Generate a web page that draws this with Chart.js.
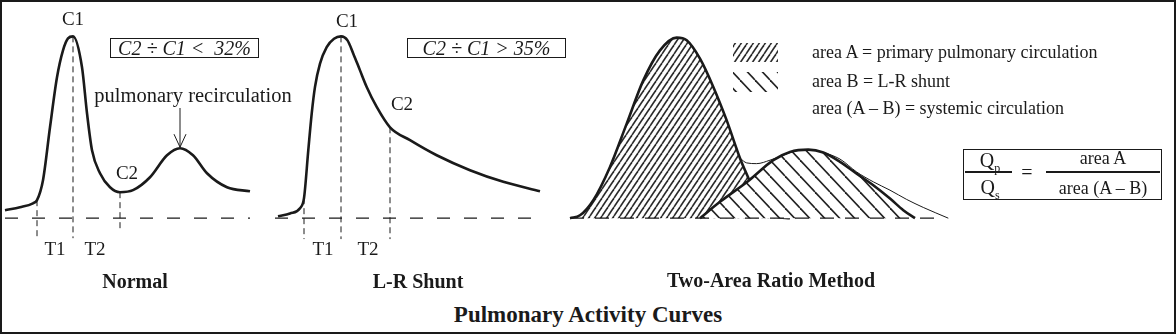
<!DOCTYPE html>
<html>
<head>
<meta charset="utf-8">
<script src="https://cdn.jsdelivr.net/npm/chart.js@4.4.1/dist/chart.umd.min.js"></script>
<style>
  body { margin: 0; background: #fff; }
  #wrap { position: relative; width: 1176px; height: 334px; font-family: "Liberation Serif", "Times New Roman", serif; color: #1a1a1a; overflow: hidden; }
  #frame { position: absolute; left: 0; top: 0; width: 1176px; height: 334px; box-sizing: border-box; border: 2px solid #1a1a1a; }
  canvas { position: absolute; top: 0; }
  .c { position: absolute; white-space: nowrap; transform: translate(-50%, -50%); }
  .l { position: absolute; white-space: nowrap; transform: translateY(-50%); font-size: 18px; }
  .b { font-weight: bold; font-size: 20px; }
  .box { position: absolute; border: 1.3px solid #1a1a1a; box-sizing: border-box; font-style: italic; font-size: 20px; line-height: 18px; text-align: center; white-space: pre; }
  .frac { position: absolute; height: 1.6px; background: #1a1a1a; }
  sub { font-size: 12px; vertical-align: -5px; line-height: 0; }
</style>
</head>
<body>
<div id="wrap">
  <canvas id="normal" width="300" height="300" style="left:0"></canvas>
  <canvas id="shunt" width="280" height="300" style="left:270px"></canvas>
  <canvas id="ratio" width="610" height="300" style="left:560px"></canvas>

  <div class="box" style="left:110px;top:38px;width:149px;height:20px">C2 ÷ C1 <  32%</div>
  <div class="box" style="left:407px;top:38px;width:159px;height:20px">C2 ÷ C1 > 35%</div>

  <div class="l" style="left:812px;top:52px">area A = primary pulmonary circulation</div>
  <div class="l" style="left:812px;top:81px">area B = L-R shunt</div>
  <div class="l" style="left:812px;top:108px">area (A – B) = systemic circulation</div>

  <div style="position:absolute;left:963px;top:149px;width:199px;height:51px;box-sizing:border-box;border:1.5px solid #1a1a1a"></div>
  <div class="c" style="left:990px;top:160px;font-size:20px">Q<sub>p</sub></div>
  <div class="frac" style="left:965px;top:171px;width:47px"></div>
  <div class="c" style="left:990px;top:187px;font-size:20px">Q<sub>s</sub></div>
  <div class="c" style="left:1027px;top:172px;font-size:20px">=</div>
  <div class="frac" style="left:1046px;top:171px;width:114px"></div>
  <div class="c" style="left:1103px;top:158px;font-size:18px">area A</div>
  <div class="c" style="left:1103px;top:188px;font-size:18px">area (A – B)</div>

  <div class="c b" style="left:135px;top:281px">Normal</div>
  <div class="c b" style="left:418px;top:281px">L-R Shunt</div>
  <div class="c b" style="left:771px;top:280px">Two-Area Ratio Method</div>
  <div class="c b" style="left:588px;top:315px;font-size:23px">Pulmonary Activity Curves</div>
  <div id="frame"></div>
</div>

<script>
// normal curve (time, activity), C1 peak = 100
const normTime = [0.5, 2, 3.3, 3.7, 4.3, 5, 5.7, 6.3, 6.8, 7.3, 8.2, 8.7, 9.2, 10, 11, 12, 13.3, 15, 16.7, 18, 19.3, 20.7, 22.7, 25];
const normAct  = [4.4, 6, 8.2, 9.9, 20.9, 50, 77.5, 92.3, 98.9, 100, 83, 57.7, 37.4, 24.7, 17, 14.3, 15.4, 22.5, 34.6, 38.5, 34.6, 24.7, 17, 14.8];

// L-R shunt curve
const shuntTime = [0.8, 2, 3, 3.4, 3.83, 4.17, 4.5, 5, 5.67, 6.4, 7.1, 7.75, 8.33, 9, 9.67, 10.67, 12, 14, 16.67, 20, 23.33, 27];
const shuntAct  = [1.1, 2.6, 5.5, 11, 37.4, 57.5, 72.2, 85, 94.1, 98.7, 100, 97.8, 90.5, 81.3, 72.2, 61.2, 50, 42.9, 34.6, 26.4, 20, 14.8];

// two-area method: primary curve A, shunt curve B, and the measured total
const areaATime = [1, 2, 3.33, 5, 6.67, 8.33, 10, 11.67, 12.67, 14, 15.33, 16.67, 18, 18.93, 20, 21.5, 23];
const areaAAct  = [0, 1.6, 9.9, 28.2, 52, 75.8, 92.3, 99.3, 97.8, 87.7, 72.2, 53.8, 33, 20.9, 7, 1, 0];
const areaBTime = [14, 16, 18.93, 21.33, 23, 24.83, 26.33, 28, 29.67, 31.33, 33, 34.33, 35.5];
const areaBAct  = [0, 9, 20.9, 31.9, 36.4, 37.7, 36.1, 31, 24.5, 18.1, 10.8, 4.4, 0];
const totalTime = [18, 18.67, 19.67, 21, 22.33, 23.5, 24.83, 26.33, 28, 29.67, 31.33, 33, 34.67, 36.33, 38.83];
const totalAct  = [33, 30.4, 30, 31.9, 34.6, 37, 37.7, 36.1, 32.5, 25.4, 20, 15.4, 10.3, 5.9, 0];

const pts = (xs, ys) => xs.map((x, i) => ({ x: x, y: ys[i] }));
const ink = '#1a1a1a';
const serif = '"Liberation Serif", "Times New Roman", serif';

function hatch(w, h, dir, lw, color) {
  const c = document.createElement('canvas');
  c.width = w; c.height = h;
  const g = c.getContext('2d');
  g.strokeStyle = color; g.lineWidth = lw;
  for (let k = -1; k <= 1; k++) {
    g.beginPath();
    if (dir === '/') { g.moveTo(k * w, h); g.lineTo(k * w + w, 0); }
    else { g.moveTo(k * w, 0); g.lineTo(k * w + w, h); }
    g.stroke();
  }
  return g.createPattern(c, 'repeat');
}
const hatchA = hatch(6, 9, '/', 1.6, '#2a2a2a');
const hatchB = hatch(15, 16, '\\', 1.6, '#222');

// dashed guides, labels, arrow and legend swatches
const marks = {
  id: 'marks',
  afterDatasetsDraw(chart, args, o) {
    const { ctx, scales: { x, y } } = chart;
    const data = chart.getDatasetMeta(0).data;
    ctx.save();
    ctx.strokeStyle = ink;
    if (o.baseline) {
      ctx.lineWidth = 1.2;
      ctx.setLineDash(o.baseline.dash);
      ctx.beginPath();
      ctx.moveTo(x.getPixelForValue(o.baseline.from), y.getPixelForValue(0));
      ctx.lineTo(x.getPixelForValue(o.baseline.to), y.getPixelForValue(0));
      ctx.stroke();
    }
    ctx.lineWidth = 1;
    (o.drops || []).forEach(d => {
      const p = data[d.index];
      ctx.setLineDash([6, 4]);
      ctx.beginPath();
      ctx.moveTo(p.x, p.y);
      ctx.lineTo(p.x, y.getPixelForValue(d.to));
      ctx.stroke();
    });
    ctx.setLineDash([]);
    if (o.arrow) {
      const p = data[o.arrow.index];
      const top = y.getPixelForValue(o.arrow.from);
      ctx.beginPath();
      ctx.moveTo(p.x, top);
      ctx.lineTo(p.x, p.y - 1);
      ctx.moveTo(p.x - 6, p.y - 14);
      ctx.lineTo(p.x, p.y - 1);
      ctx.lineTo(p.x + 6, p.y - 14);
      ctx.stroke();
    }
    ctx.fillStyle = ink;
    ctx.textAlign = 'center';
    ctx.textBaseline = 'middle';
    (o.labels || []).forEach(l => {
      ctx.font = (l.size || 19) + 'px ' + serif;
      ctx.fillText(l.text, x.getPixelForValue(l.t), y.getPixelForValue(l.v));
    });
    (o.swatches || []).forEach(s => {
      ctx.fillStyle = s.fill;
      ctx.fillRect(s.x, s.y, s.w, s.h);
    });
    ctx.restore();
  }
};

function panel(id, tMax, datasets, marksOpts) {
  return new Chart(document.getElementById(id), {
    type: 'line',
    data: { datasets: datasets },
    options: {
      responsive: false,
      animation: false,
      events: [],
      layout: { padding: 0 },
      elements: { point: { radius: 0 }, line: { cubicInterpolationMode: 'monotone', borderColor: ink, borderWidth: 2.6, capBezierPoints: true } },
      scales: {
        x: { type: 'linear', display: false, min: 0, max: tMax },
        y: { display: false, min: -45, max: 120 }
      },
      plugins: { legend: { display: false }, tooltip: { enabled: false }, marks: marksOpts }
    },
    plugins: [marks]
  });
}

panel('normal', 30, [
  { data: pts(normTime, normAct), fill: false }
], {
  baseline: { from: 0.5, to: 25, dash: [13, 14] },
  drops: [{ index: 3, to: -11 }, { index: 9, to: -11 }, { index: 15, to: -7.6 }],
  arrow: { index: 19, from: 60.6 },
  labels: [
    { text: 'C1', t: 7.3, v: 109 },
    { text: 'C2', t: 12.7, v: 24.3 },
    { text: 'T1', t: 5.5, v: -17.5 },
    { text: 'T2', t: 9.5, v: -17.5 },
    { text: 'pulmonary recirculation', t: 19.3, v: 66.6, size: 20.5 }
  ]
});

panel('shunt', 28, [
  { data: pts(shuntTime, shuntAct), fill: false }
], {
  baseline: { from: 0.5, to: 26.5, dash: [13, 14] },
  drops: [{ index: 3, to: -11.5 }, { index: 10, to: -11.5 }, { index: 16, to: -11.5 }],
  labels: [
    { text: 'C1', t: 7.7, v: 108 },
    { text: 'C2', t: 13.2, v: 62.3 },
    { text: 'T1', t: 5.3, v: -17.5 },
    { text: 'T2', t: 9.8, v: -17.5 }
  ]
});

panel('ratio', 61, [
  { data: pts(totalTime, totalAct), fill: false, borderWidth: 1, order: 1 },
  { data: pts(areaBTime, areaBAct), fill: 'origin', backgroundColor: hatchB, order: 2 },
  { data: pts(areaBTime, areaBAct), fill: 'origin', backgroundColor: '#fff', borderWidth: 0, order: 3 },
  { data: pts(areaATime, areaAAct), fill: 'origin', backgroundColor: hatchA, order: 4 }
], {
  baseline: { from: 1, to: 38, dash: [14, 11] },
  swatches: [
    { fill: hatchA, x: 173, y: 43, w: 45, h: 19 },
    { fill: hatchB, x: 173, y: 72, w: 45, h: 20 }
  ]
});
</script>
</body>
</html>
